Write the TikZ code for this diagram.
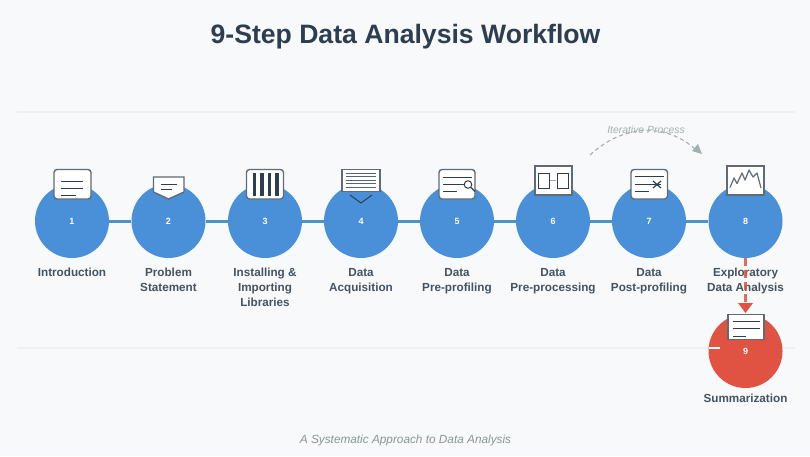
\documentclass[tikz,border=0pt]{standalone}
\usepackage{fontspec}
\setmainfont{Liberation Sans}
\usetikzlibrary{arrows.meta}
\definecolor{bgc}{HTML}{F8F9FA}
\definecolor{stepblue}{HTML}{4A90D9}
\definecolor{linkblue}{HTML}{5092C4}
\definecolor{stepred}{HTML}{E05241}
\definecolor{ink}{HTML}{2C3E50}
\definecolor{labelc}{HTML}{46525E}
\definecolor{iconedge}{HTML}{5F6B76}
\definecolor{rulec}{HTML}{EEF0F2}
\definecolor{iterc}{HTML}{A3AFB0}
\definecolor{footc}{HTML}{8A9496}
\tikzset{
  x=1pt,y=-1pt,
  stepdot/.style={circle,fill=stepblue,draw=none,minimum size=74pt,inner sep=0pt,text=white,font=\fontsize{9}{9}\selectfont\bfseries},
  stepdotred/.style={stepdot,fill=stepred},
  steplabel/.style={align=center,text=labelc,font=\fontsize{11.7}{15}\selectfont\bfseries,anchor=north,inner sep=0pt,execute at begin node=\rule{0pt}{9pt}},
  connector/.style={draw=linkblue,line width=3pt},
  iconbox/.style={draw=iconedge,fill=white,line width=1.4pt},
  iconline/.style={draw=ink,line width=0.9pt},
  rulebar/.style={draw=rulec,line width=2pt},
}
\begin{document}
\begin{tikzpicture}
\useasboundingbox (0,0) rectangle (810,456);
\fill[bgc] (0,0) rectangle (810,456);
\node[font=\fontsize{26.6}{30}\selectfont\bfseries,text=ink,inner sep=0pt] (title) at (405.5,37) {9-Step Data Analysis Workflow};
\coordinate (ruleAa) at (17,112); \coordinate (ruleAb) at (795,112);
\coordinate (ruleBa) at (17,348); \coordinate (ruleBb) at (795,348);
\draw[rulebar] (ruleAa) -- (ruleAb);
\draw[rulebar] (ruleBa) -- (ruleBb);
% circles
\node[stepdot] (s1) at (72,221) {1};
\node[stepdot] (s2) at (168.5,221) {2};
\node[stepdot] (s3) at (265,221) {3};
\node[stepdot] (s4) at (361,221) {4};
\node[stepdot] (s5) at (457,221) {5};
\node[stepdot] (s6) at (553,221) {6};
\node[stepdot] (s7) at (649,221) {7};
\node[stepdot] (s8) at (745.5,221) {8};
\node[stepdotred] (s9) at (745.5,351) {9};
\foreach \a/\b in {s1/s2,s2/s3,s3/s4,s4/s5,s5/s6,s6/s7,s7/s8} \draw[connector] (\a) -- (\b);
% labels
\node[steplabel] (l1) at (72,267) {Introduction};
\node[steplabel] (l2) at (168.5,268) {Problem\\Statement};
\node[steplabel] (l3) at (265,268) {Installing \&\\Importing\\Libraries};
\node[steplabel] (l4) at (361,268) {Data\\Acquisition};
\node[steplabel] (l5) at (457,268) {Data\\Pre-profiling};
\node[steplabel] (l6) at (553,268) {Data\\Pre-processing};
\node[steplabel] (l7) at (649,268) {Data\\Post-profiling};
\node[steplabel] (l8) at (745.5,268) {Exploratory\\Data Analysis};
\node[steplabel] (l9) at (745.5,393) {Summarization};
% arrow 8 -> 9
\coordinate (dashend) at (745.5,306);
\draw[draw=stepred,draw opacity=0.85,line width=3pt,dash pattern=on 8pt off 4pt] (s8) -- (dashend);
\fill[stepred] (738,303) -- (753,303) -- (745.5,313) -- cycle;
% white stub on circle 9
\draw[draw=white!85!bgc,line width=2pt] (708.5,348) -- (720,348);
% icon 1
\draw[iconbox,rounded corners=3pt] (54,169.5) rectangle (91,199);
\draw[iconline] (61,181) -- (83,181) (61,188) -- (83,188) (61,195) -- (76,195);
% icon 2
\draw[iconbox] (153.5,177) -- (184,177) -- (184,192) -- (168.5,199) -- (153.5,192) -- cycle;
\draw[iconline] (161,184.5) -- (177,184.5) (161,189) -- (172,189);
% icon 3
\draw[iconbox,rounded corners=3pt] (246.5,169.5) rectangle (283.5,199);
\foreach \x in {252.5,260,267.5,275} \fill[ink] (\x,173) rectangle ++(3.6,23);
% icon 4
\draw[iconbox] (342,169.5) rectangle (380,191.5);
\foreach \y in {173,176.5,180,183.5,187} \draw[draw=ink!80,line width=0.6pt] (346,\y) -- (376,\y);
\draw[draw=ink,line width=1pt] (350,195) -- (361,203) -- (372,195);
% icon 5
\draw[iconbox,rounded corners=3pt] (439,169.5) rectangle (475,199);
\draw[iconline] (443,177) -- (472,177) (443,184.5) -- (464,184.5) (443,191.5) -- (457,191.5);
\draw[draw=ink,line width=1pt] (468,184.5) circle (3.8);
\draw[draw=ink,line width=1.2pt] (471,187.5) -- (475,191.5);
% icon 6
\draw[iconbox] (535,166) rectangle (572,195);
\draw[draw=ink,line width=0.9pt] (538.5,173) rectangle (549,188);
\draw[draw=ink,line width=0.9pt] (557,173) rectangle (568,188);
\draw[draw=iconedge!60,line width=0.5pt] (550,180.5) -- (556,180.5);
% icon 7
\draw[iconbox,rounded corners=3pt] (631,169.5) rectangle (667.5,199);
\draw[iconline] (634.5,176.5) -- (664,176.5) (634.5,184) -- (661,184) (634.5,191.5) -- (649,191.5);
\draw[draw=ink,line width=1.2pt] (653,181) -- (661,188) (661,181) -- (653,188);
% icon 8
\draw[iconbox] (727,166) rectangle (764,195);
\draw[draw=iconedge,line width=1.2pt,line join=round] (730,187.5) -- (734,178) -- (737,183.5) -- (742,173) -- (745,180) -- (749,170) -- (753,177) -- (757,173) -- (761,188);
% icon 9
\draw[iconbox] (728,314.5) rectangle (764,339.5);
\draw[iconline] (733,321) -- (760,321) (733,328) -- (760,328) (733,336) -- (746,336);
% iterative
\coordinate (itA) at (590,155);
\coordinate (itB) at (702,154);
\node[font=\fontsize{10.4}{10}\selectfont\itshape,text=iterc,inner sep=0pt] (it) at (646,130) {Iterative Process};
\draw[draw=iterc,line width=1.1pt,dash pattern=on 4pt off 3pt] (itA) .. controls (622,125) and (665,122) .. (695,149);
\fill[iterc] (itB) -- (692,151) -- (698,144) -- cycle;
% footer
\node[font=\fontsize{11.8}{13}\selectfont\itshape,text=footc,inner sep=0pt] (foot) at (405.5,440) {A Systematic Approach to Data Analysis};
\end{tikzpicture}
\end{document}
